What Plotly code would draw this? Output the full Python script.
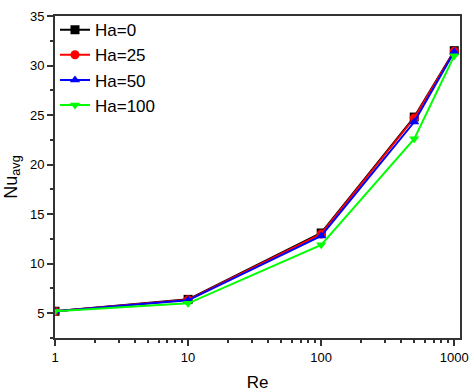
import plotly.graph_objects as go

re_vals = [1, 10, 100, 500, 1000]
nu_ha0 = [5.2, 6.4, 13.1, 24.8, 31.5]
nu_ha25 = [5.2, 6.35, 13.0, 24.7, 31.45]
nu_ha50 = [5.2, 6.3, 12.8, 24.3, 31.4]
nu_ha100 = [5.2, 6.0, 11.9, 22.6, 31.0]

x_ticks = [1, 10, 100, 1000]
x_minor = [m * d for d in (1, 10, 100) for m in range(2, 10)]
y_ticks = [5, 10, 15, 20, 25, 30, 35]

series = [
    ("Ha=0", nu_ha0, "#000000", "square"),
    ("Ha=25", nu_ha25, "#FF0000", "circle"),
    ("Ha=50", nu_ha50, "#0000FF", "triangle-up"),
    ("Ha=100", nu_ha100, "#00FF00", "triangle-down"),
]

fig = go.Figure()
for name, ys, color, sym in series:
    fig.add_trace(go.Scatter(
        x=re_vals, y=ys, name=name, mode="lines+markers",
        line=dict(color=color, width=2),
        marker=dict(color=color, symbol=sym, size=9),
    ))

fig.update_layout(
    width=474, height=392,
    margin=dict(l=55, r=14, t=13, b=54),
    plot_bgcolor="white", paper_bgcolor="white",
    font=dict(family="Arial, Liberation Sans, sans-serif", color="#000000", size=13),
    legend=dict(x=0.0, y=1.012, xanchor="left", yanchor="top",
                bgcolor="rgba(0,0,0,0)", font=dict(size=17),
                tracegroupgap=0, itemwidth=30),
    xaxis=dict(
        type="log", range=[0, 3.043], automargin=False,
        tickvals=x_ticks, ticktext=[str(v) for v in x_ticks],
        ticks="outside", ticklen=6, tickwidth=2, tickcolor="#333",
        showline=True, linecolor="#333", linewidth=2, mirror=True,
        showgrid=False, zeroline=False,
        minor=dict(tickvals=x_minor, ticks="outside", ticklen=3, tickwidth=1.5,
                   tickcolor="#333", showgrid=False),
        title=dict(text="Re", font=dict(size=17), standoff=14),
    ),
    yaxis=dict(
        range=[2.5, 35], tickvals=y_ticks, automargin=False,
        ticks="outside", ticklen=6, tickwidth=2, tickcolor="#333",
        showline=True, linecolor="#333", linewidth=2, mirror=True,
        showgrid=False, zeroline=False,
        minor=dict(ticks="outside", ticklen=3, tickwidth=1.5, tickcolor="#333",
                   dtick=2.5, showgrid=False),
        title=dict(text="Nu<sub>avg</sub>", font=dict(size=18), standoff=8),
    ),
)

fig.write_html(
    "out.html",
    config={"displayModeBar": False},
    post_script="document.body.style.margin='0';document.body.style.padding='0';",
)
